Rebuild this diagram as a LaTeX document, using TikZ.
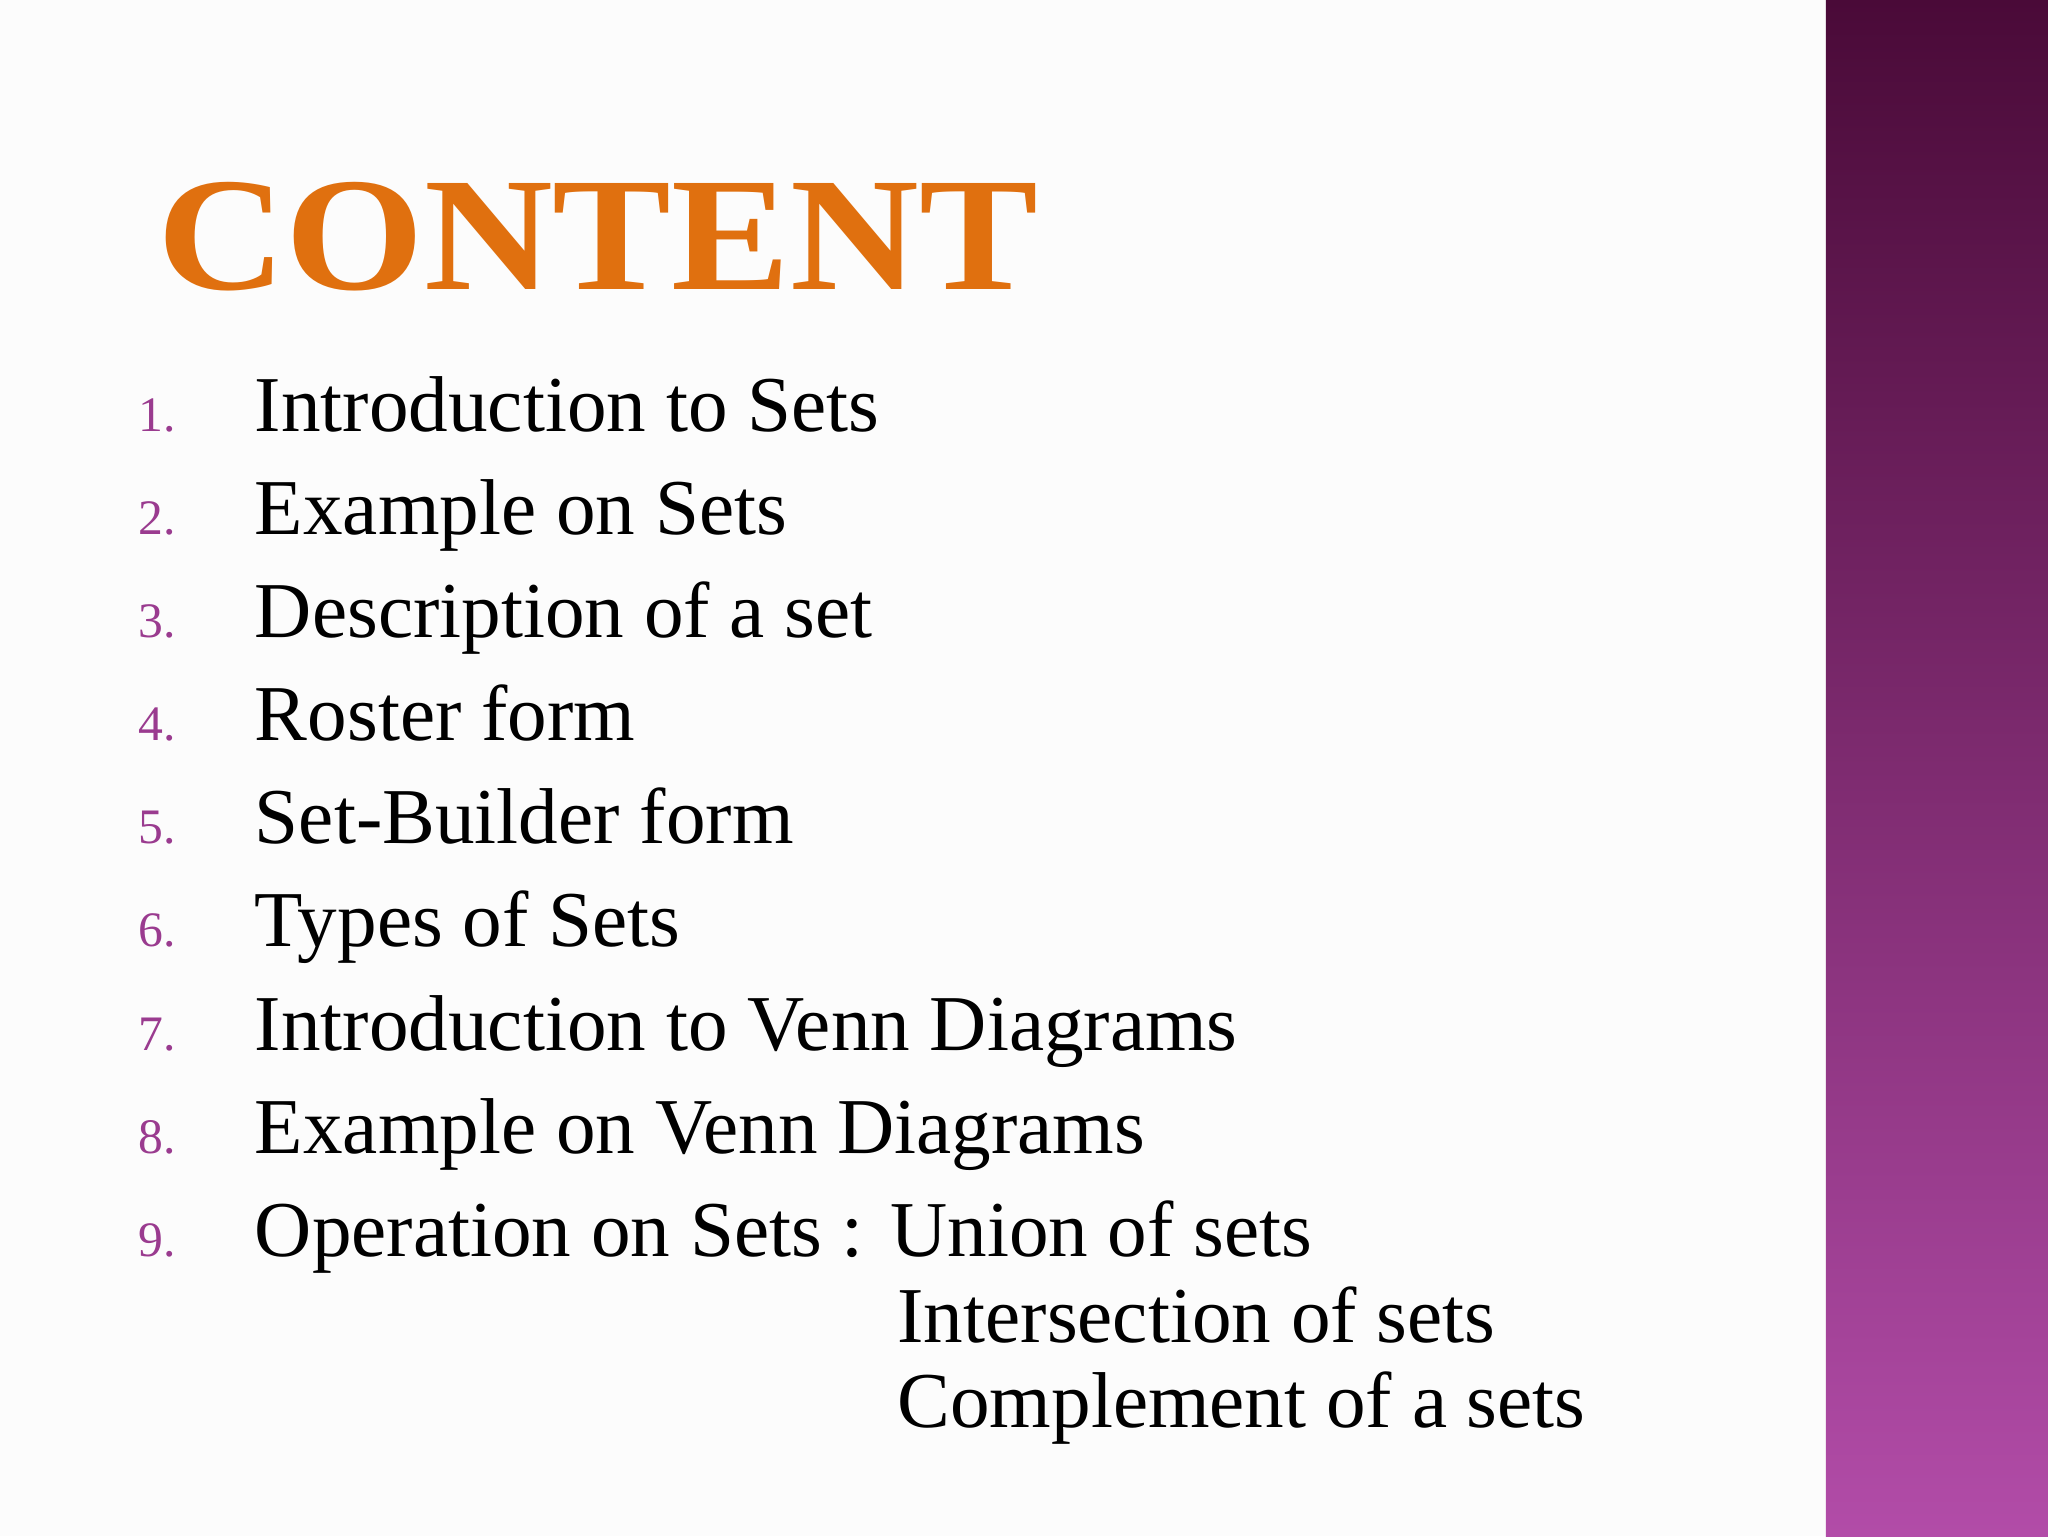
\documentclass[tikz,border=0pt]{standalone}
\usepackage{fontspec}
\setmainfont{Liberation Serif}
\begin{document}
\begin{tikzpicture}[x=1pt,y=-1pt,
  num/.style={anchor=base west,inner sep=0pt,text=numc,font=\fontsize{38}{40}\selectfont},
  item/.style={anchor=base west,inner sep=0pt,font=\fontsize{60.6}{62}\selectfont}]
\definecolor{numc}{HTML}{9A3B8F}
\definecolor{ttl}{HTML}{E0700F}
\definecolor{ptop}{HTML}{4A0A38}
\definecolor{pbot}{HTML}{B24CA8}
\useasboundingbox (0,0) rectangle (1568,1176);
\fill[white!98!gray] (0,0) rectangle (1398,1176);
\shade[top color=ptop,bottom color=pbot] (1398,0) rectangle (1568,1176);
\node[anchor=base west,inner sep=0pt,text=ttl,xscale=1.1,font=\fontsize{124}{130}\selectfont\bfseries] (title) at (120,222) {CONTENT};
\foreach \n/\t [count=\i from 0] in {1/Introduction to Sets,2/Example on Sets,3/Description of a set,4/Roster form,5/Set-Builder form,6/Types of Sets,7/Introduction to Venn Diagrams,8/Example on Venn Diagrams,9/Operation on Sets : Union of sets}{
  \node[num] (n\n) at (106,330+79*\i) {\n.};
  \node[item] (t\n) at (195,330+79*\i) {\t};
}
\node[item] (s1) at (687,1028) {Intersection of sets};
\node[item] (s2) at (687,1093) {Complement of a sets};
\end{tikzpicture}
\end{document}
